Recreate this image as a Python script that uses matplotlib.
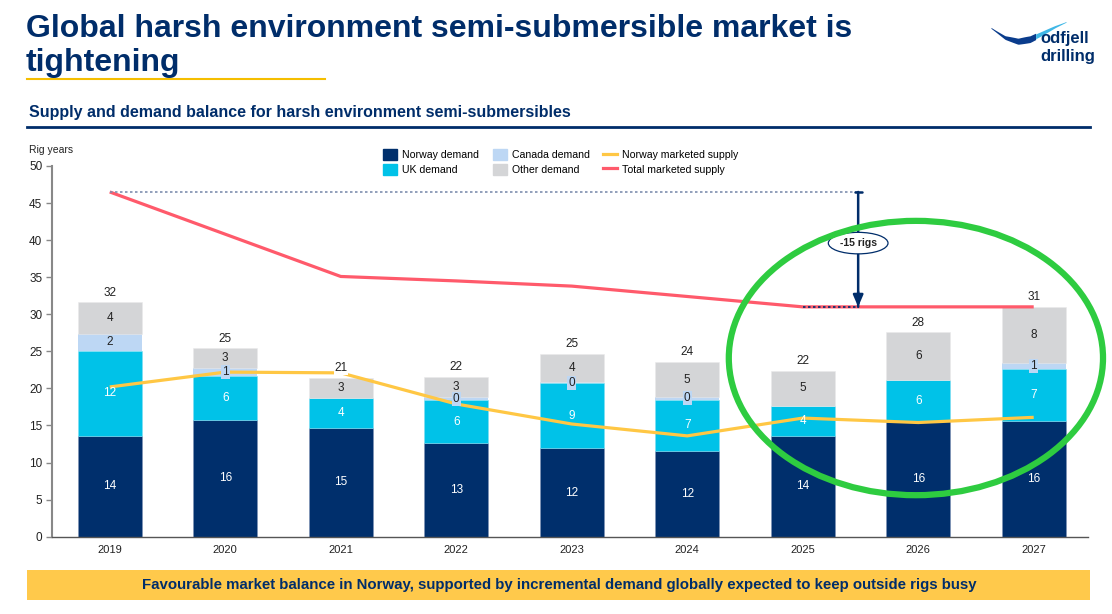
import numpy as np
import matplotlib
matplotlib.use("Agg")
import matplotlib.pyplot as plt
from matplotlib.patches import Ellipse, Rectangle
from matplotlib.lines import Line2D
from matplotlib.patches import Patch

plt.rcParams['font.family'] = ['Liberation Sans', 'DejaVu Sans']

# data (rig years)
years = ['2019', '2020', '2021', '2022', '2023', '2024', '2025', '2026', '2027']
norway = [13.55, 15.75, 14.7, 12.6, 11.9, 11.6, 13.55, 15.55, 15.6]
uk = [11.55, 5.95, 4.0, 5.8, 8.8, 6.9, 4.05, 5.55, 7.0]
canada = [2.3, 1.1, 0.0, 0.4, 0.1, 0.35, 0.0, 0.0, 0.8]
other = [4.2, 2.6, 2.75, 2.8, 3.85, 4.7, 4.8, 6.45, 7.6]
norway_supply = [20.2, 22.2, 22.1, 17.9, 15.2, 13.6, 16.0, 15.4, 16.1]
total_supply = [46.5, 40.8, 35.1, 34.5, 33.8, 32.4, 31.0, 31.0, 31.0]

NAVY = '#002D6A'
C_NOR = '#002F6C'
C_UK = '#00C2E8'
C_CAN = '#BDD7F4'
C_OTH = '#D4D5D7'
C_YEL = '#FFC744'
C_RED = '#FF5A6B'

fig = plt.figure(figsize=(11.12, 6.14), dpi=100)

# header
fig.text(26 / 1112, 1 - 46 / 614, 'Global harsh environment semi-submersible market is\ntightening',
         fontsize=23, fontweight='bold', color=NAVY, va='center', ha='left', linespacing=1.15)
fig.add_artist(Line2D([27 / 1112, 325 / 1112], [1 - 79 / 614] * 2, color='#F5BE00', lw=1.5))
fig.text(29 / 1112, 1 - 113 / 614, 'Supply and demand balance for harsh environment semi-submersibles',
         fontsize=11.5, fontweight='bold', color=NAVY, va='center', ha='left')
fig.add_artist(Line2D([27 / 1112, 1090 / 1112], [1 - 127 / 614] * 2, color=NAVY, lw=2))

# logo (drawn in figure pixel coords)
lax = fig.add_axes([0, 0, 1, 1], zorder=-1)
lax.set_xlim(0, 1112)
lax.set_ylim(614, 0)
lax.axis('off')
sx = np.linspace(991, 1066, 80)
sy = np.interp(sx, [991, 1005, 1018, 1030, 1042, 1055, 1066], [28, 38, 42, 40, 34, 27, 22])
sw = 0.6 + 3.6 * np.sin(np.pi * (sx - 991) / 75) ** 1.3
m = sx <= 1036
lax.fill_between(sx[m], sy[m] - sw[m], sy[m] + sw[m] * 0.6, color='#0A3C8C', lw=0)
m2 = sx >= 1035
lax.fill_between(sx[m2], sy[m2] - sw[m2] * 0.8, sy[m2] + sw[m2] * 0.4, color='#3FB7E6', lw=0)
fig.text(1040 / 1112, 1 - 39 / 614, 'odfjell', fontsize=12, fontweight='bold', color=NAVY, va='center')
fig.text(1040 / 1112, 1 - 56 / 614, 'drilling', fontsize=12, fontweight='bold', color=NAVY, va='center')

# chart
ax = fig.add_axes([52 / 1112, 1 - 536.7 / 614, (1088 - 52) / 1112, (536.7 - 166) / 614])
x = np.arange(len(years))
w = 0.555
b1 = np.array(norway)
b2 = b1 + np.array(uk)
b3 = b2 + np.array(canada)
tot = b3 + np.array(other)
ax.bar(x, norway, w, color=C_NOR, edgecolor='#7F93B5', linewidth=0.4, zorder=2)
ax.bar(x, uk, w, bottom=b1, color=C_UK, edgecolor='#7FDDF2', linewidth=0.4, zorder=2)
ax.bar(x, canada, w, bottom=b2, color=C_CAN, linewidth=0, zorder=2)
ax.bar(x, other, w, bottom=b3, color=C_OTH, edgecolor='#EAEAEB', linewidth=0.4, zorder=2)

ax.plot(x, total_supply, color=C_RED, lw=2.3, zorder=3, solid_capstyle='butt')
ax.plot(x, norway_supply, color=C_YEL, lw=2.3, zorder=3, solid_capstyle='butt')

fs = 8.5
for i in range(len(years)):
    ax.text(x[i], norway[i] / 2, f'{norway[i]:.0f}', ha='center', va='center', color='white', fontsize=fs, zorder=5)
    ax.text(x[i], b1[i] + uk[i] / 2, f'{uk[i]:.0f}', ha='center', va='center', color='white', fontsize=fs, zorder=5)
    if canada[i] > 0:
        ax.text(x[i], b2[i] + canada[i] / 2, f'{canada[i]:.0f}', ha='center', va='center', color='#222222',
                fontsize=fs, zorder=5,
                bbox=dict(boxstyle='square,pad=0.1', fc=C_CAN, ec='none'))
    ax.text(x[i], b3[i] + other[i] / 2, f'{other[i]:.0f}', ha='center', va='center', color='#222222', fontsize=fs, zorder=5)
    ax.text(x[i], tot[i] + 0.5, f'{tot[i]:.0f}', ha='center', va='bottom', color='#222222', fontsize=fs, zorder=5,
            bbox=dict(boxstyle='square,pad=0.05', fc='white', ec='none'))

# -15 rigs annotation
ax_x = 6.48
ax.plot([0, ax_x], [total_supply[0]] * 2, ls=(0, (1.5, 1.5)), color='#7F8FAF', lw=1.2, zorder=3)
ax.plot([6, ax_x], [total_supply[6]] * 2, ls=(0, (1.5, 1.5)), color=NAVY, lw=1.2, zorder=4)
ax.annotate('', xy=(ax_x, total_supply[6]), xytext=(ax_x, total_supply[0]),
            arrowprops=dict(arrowstyle='|-|,widthA=0.25,widthB=0', color=NAVY, lw=1.8, shrinkA=0, shrinkB=0), zorder=4)
ax.annotate('', xy=(ax_x, total_supply[6]), xytext=(ax_x, total_supply[6] + 2),
            arrowprops=dict(arrowstyle='-|>,head_width=0.3,head_length=0.7', color=NAVY, lw=1.8, shrinkA=0, shrinkB=0), zorder=4)
ax.text(ax_x, 39.6, '-15 rigs', ha='center', va='center', fontsize=7.5, fontweight='bold', color='#222222', zorder=6,
        bbox=dict(boxstyle='ellipse,pad=0.25', fc='white', ec=NAVY, lw=0.9))

ax.add_patch(Ellipse((6.98, 24.1), 3.24, 37.0, fill=False, ec='#2ECC40', lw=4.5, zorder=6, clip_on=False))

ax.set_xlim(-0.5, 8.47)
ax.set_ylim(0, 50)
ax.set_yticks(range(0, 51, 5))
ax.set_xticks(x)
ax.set_xticklabels(years)
ax.tick_params(axis='y', length=4, width=1, color='#888888', labelsize=8.5, pad=3, labelcolor='#222222')
ax.tick_params(axis='x', length=0, labelsize=8, pad=6, labelcolor='#222222')
for s in ['top', 'right']:
    ax.spines[s].set_visible(False)
ax.spines['left'].set_color('#888888')
ax.spines['left'].set_linewidth(1.5)
ax.spines['bottom'].set_color('#555555')
ax.spines['bottom'].set_linewidth(1.0)
ax.text(29 / 1112, 1 - 150 / 614, 'Rig years', transform=fig.transFigure, fontsize=7.5, color='#222222', va='center')

handles = [Patch(color=C_NOR), Patch(color=C_UK), Patch(color=C_CAN), Patch(color=C_OTH),
           Line2D([], [], color=C_YEL, lw=2.3), Line2D([], [], color=C_RED, lw=2.3)]
labels = ['Norway demand', 'UK demand', 'Canada demand', 'Other demand',
          'Norway marketed supply', 'Total marketed supply']
fig.legend(handles, labels, ncol=3, loc='upper left', bbox_to_anchor=(378 / 1112, 1 - 144 / 614),
           frameon=False, fontsize=7.6, handlelength=1.3, handleheight=1.2, columnspacing=1.3,
           labelspacing=0.35, handletextpad=0.5, borderpad=0)

# banner
fig.add_artist(Rectangle((27 / 1112, 1 - 600 / 614), (1090 - 27) / 1112, 30 / 614,
                         transform=fig.transFigure, fc='#FFC94B', ec='none'))
fig.text(559 / 1112, 1 - 585 / 614,
         'Favourable market balance in Norway, supported by incremental demand globally expected to keep outside rigs busy',
         ha='center', va='center', fontsize=10.8, fontweight='bold', color=NAVY)

fig.savefig('out.png', dpi=100)
